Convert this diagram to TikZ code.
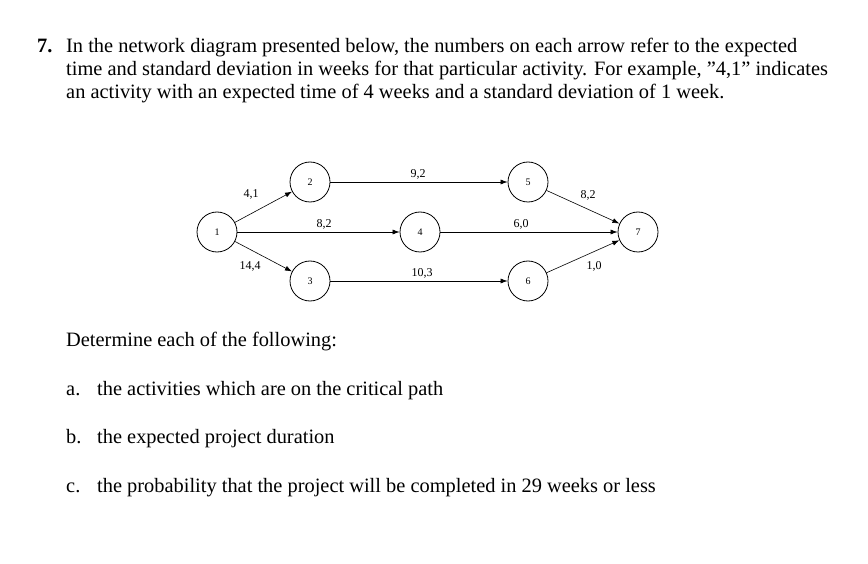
\documentclass[tikz,border=0pt]{standalone}
\usepackage{fontspec}
\setmainfont{Liberation Serif}
\usetikzlibrary{arrows.meta}
\begin{document}
\begin{tikzpicture}[x=1pt,y=-1pt,
  ev/.style={circle,draw,thick,minimum size=40pt,inner sep=0pt,font=\fontsize{10}{11}\selectfont},
  act/.style={draw,-{Latex[length=7pt,width=5pt]},semithick},
  lab/.style={font=\fontsize{12}{13}\selectfont,inner sep=1pt},
  txt/.style={anchor=base west,font=\fontsize{20.4}{22}\selectfont,inner sep=0pt}]
\useasboundingbox (0,0) rectangle (868,564);
\node[txt,font=\fontsize{20.4}{22}\selectfont\bfseries] (num) at (37,53) {7.};
\node[txt] (l1) at (66,53) {In the network diagram presented below, the numbers on each arrow refer to the expected};
\node[txt] (l2) at (66,76) {time and standard deviation in weeks for that particular activity. For example, \symbol{34}4,1\symbol{34} indicates};
\node[txt] (l3) at (66,99) {an activity with an expected time of 4 weeks and a standard deviation of 1 week.};
\node[ev] (n1) at (217,232) {1};
\node[ev] (n2) at (310,182) {2};
\node[ev] (n3) at (310,281) {3};
\node[ev] (n4) at (420,232) {4};
\node[ev] (n5) at (528,182) {5};
\node[ev] (n6) at (528,281) {6};
\node[ev] (n7) at (638,232) {7};
\draw[act] (n1) -- (n2);
\draw[act] (n1) -- (n4);
\draw[act] (n1) -- (n3);
\draw[act] (n2) -- (n5);
\draw[act] (n4) -- (n7);
\draw[act] (n3) -- (n6);
\draw[act] (n5) -- (n7);
\draw[act] (n6) -- (n7);
\node[lab] (e12) at (251,194) {4,1};
\node[lab] (e14) at (324,224) {8,2};
\node[lab] (e13) at (250,266) {14,4};
\node[lab] (e25) at (418,174) {9,2};
\node[lab] (e47) at (521,224) {6,0};
\node[lab] (e36) at (422,273) {10,3};
\node[lab] (e57) at (588,195) {8,2};
\node[lab] (e67) at (594,266) {1,0};
\node[txt] (det) at (66,346) {Determine each of the following:};
\node[txt] (qa) at (66,395) {a.};
\node[txt] (ta) at (97,395) {the activities which are on the critical path};
\node[txt] (qb) at (66,443) {b.};
\node[txt] (tb) at (97,443) {the expected project duration};
\node[txt] (qc) at (66,492) {c.};
\node[txt] (tc) at (97,492) {the probability that the project will be completed in 29 weeks or less};
\end{tikzpicture}
\end{document}
